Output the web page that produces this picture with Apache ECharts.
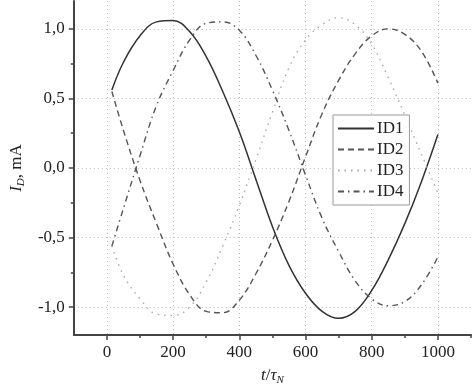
<!DOCTYPE html>
<html>
<head>
<meta charset="utf-8">
<script src="https://cdn.jsdelivr.net/npm/echarts@6/dist/echarts.min.js"></script>
<style>
  html, body { margin: 0; padding: 0; background: #fff; }
  #chart { width: 474px; height: 391px; }
</style>
</head>
<body>
<div id="chart"></div>
<script>
// time points, t / tau_N
const tValues = [15, 50, 100, 150, 200, 250, 300, 350, 400, 450, 500,
  550, 600, 650, 700, 750, 800, 850, 900, 950, 1000];

// drain currents, mA
const id1 = [0.56, 0.76, 0.95, 1.05, 1.06, 0.98, 0.80, 0.55, 0.26, -0.08, -0.42,
  -0.70, -0.90, -1.03, -1.08, -1.03, -0.88, -0.66, -0.40, -0.10, 0.24];
const id2 = [0.55, 0.27, -0.09, -0.40, -0.69, -0.91, -1.03, -1.04, -0.95, -0.76, -0.52,
  -0.24, 0.08, 0.39, 0.63, 0.82, 0.95, 1.00, 0.96, 0.84, 0.61];
const id3 = [-0.56, -0.77, -0.94, -1.05, -1.06, -1.00, -0.82, -0.56, -0.27, 0.06, 0.40,
  0.72, 0.92, 1.03, 1.08, 1.03, 0.89, 0.65, 0.38, 0.10, -0.18];
const id4 = [-0.56, -0.29, 0.09, 0.45, 0.70, 0.92, 1.04, 1.05, 0.99, 0.81, 0.56,
  0.27, -0.05, -0.36, -0.60, -0.81, -0.94, -0.99, -0.96, -0.84, -0.64];

const seriesNames = ["ID1", "ID2", "ID3", "ID4"];

const xTicks = [0, 200, 400, 600, 800, 1000];
const xMinorTicks = [100, 300, 500, 700, 900, 1100];
const yTicks = [-1, -0.5, 0, 0.5, 1];
const yMinorTicks = [-0.75, -0.25, 0.25, 0.75];

const font = "Liberation Serif";

function pairs(values) {
  return tValues.map((t, i) => [t, values[i]]);
}

const myChart = echarts.init(document.getElementById("chart"), null, { renderer: "canvas" });

const lineStyles = [
  { color: "#333", width: 1.5, type: "solid" },
  { color: "#555", width: 1.4, type: [6, 4] },
  { color: "#aaa", width: 1.4, type: [1.5, 5] },
  { color: "#555", width: 1.4, type: [6, 4, 1.5, 4] },
];

const richName = {
  i: { fontFamily: font, fontStyle: "italic", fontSize: 17, color: "#222" },
  n: { fontFamily: font, fontSize: 17, color: "#222" },
  sub: { fontFamily: font, fontStyle: "italic", fontSize: 11, color: "#222", padding: [10, 0, 0, 0] },
};

const option = {
  backgroundColor: "#fff",
  animation: false,
  grid: { left: 55, top: 1, width: 416, height: 339 },
  legend: {
    orient: "vertical",
    left: 333,
    top: 115,
    padding: [5, 6, 5, 4],
    itemWidth: 36,
    itemHeight: 14,
    itemGap: 4,
    borderColor: "#999",
    borderWidth: 1,
    backgroundColor: "#fff",
    itemStyle: { opacity: 0 },
    textStyle: { fontFamily: font, fontSize: 17, color: "#222", padding: [0, 0, 0, -2] },
    data: seriesNames,
  },
  xAxis: [
    {
      type: "value",
      min: -100,
      max: 1100,
      name: "{i|t}{n|/}{i|τ}{sub|N}",
      nameLocation: "middle",
      nameGap: 30,
      nameTextStyle: { rich: richName },
      axisLine: { show: true, onZero: false, lineStyle: { color: "#444", width: 2 } },
      axisTick: { show: true, inside: false, length: 5, customValues: xTicks, lineStyle: { color: "#444", width: 1.5 } },
      axisLabel: {
        customValues: xTicks,
        margin: 9,
        fontFamily: font,
        fontSize: 17,
        color: "#222",
        formatter: (v) => String(v),
      },
      splitLine: { show: true, lineStyle: { color: "#bbb", type: [1, 3], width: 1 } },
    },
    {
      type: "value",
      position: "bottom",
      min: -100,
      max: 1100,
      axisLine: { show: false, onZero: false },
      axisTick: { show: true, inside: false, length: 3, customValues: xMinorTicks, lineStyle: { color: "#444", width: 1.5 } },
      axisLabel: { show: false },
      splitLine: { show: false },
    },
  ],
  yAxis: [
    {
      type: "value",
      min: -1.2,
      max: 1.2,
      name: "{i|I}{sub|D}{n|, mA}",
      nameLocation: "middle",
      nameGap: 33,
      nameTextStyle: { rich: richName },
      axisLine: { show: true, onZero: false, lineStyle: { color: "#444", width: 2 } },
      axisTick: { show: true, inside: false, length: 5, customValues: yTicks, lineStyle: { color: "#444", width: 1.5 } },
      axisLabel: {
        customValues: yTicks,
        margin: 9,
        fontFamily: font,
        fontSize: 17,
        color: "#222",
        formatter: (v) => v.toFixed(1).replace(".", ","),
      },
      splitLine: { show: true, lineStyle: { color: "#bbb", type: [1, 3], width: 1 } },
    },
    {
      type: "value",
      position: "left",
      min: -1.2,
      max: 1.2,
      axisLine: { show: false, onZero: false },
      axisTick: { show: true, inside: false, length: 3, customValues: yMinorTicks, lineStyle: { color: "#444", width: 1.5 } },
      axisLabel: { show: false },
      splitLine: { show: false },
    },
  ],
  series: [id1, id2, id3, id4].map((values, i) => ({
    name: seriesNames[i],
    type: "line",
    xAxisIndex: 0,
    yAxisIndex: 0,
    smooth: 0.4,
    showSymbol: false,
    symbol: "none",
    color: lineStyles[i].color,
    lineStyle: lineStyles[i],
    data: pairs(values),
  })),
};

myChart.setOption(option);
</script>
</body>
</html>
